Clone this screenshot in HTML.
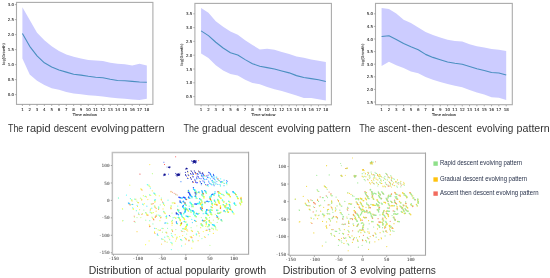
<!DOCTYPE html>
<html lang="en"><head><meta charset="utf-8"><title>Evolving patterns</title>
<style>html,body{margin:0;padding:0;background:#fff}body{width:550px;height:278px;overflow:hidden}svg{display:block}.t{font-family:"DejaVu Sans","Liberation Sans",sans-serif;fill:#222;stroke:#222;stroke-width:.08}.m{font-family:"DejaVu Sans Mono","Liberation Mono",monospace;fill:#333}.c{font-family:"Liberation Sans","Noto Sans CJK SC",sans-serif;fill:#333}.l{font-family:"Liberation Sans","Noto Sans CJK SC",sans-serif;fill:#27314a}</style></head><body>
<svg width="550" height="278" viewBox="0 0 550 278">
<rect width="550" height="278" fill="#fff"/>
<path d="M22.4 7.3 L29.72 19.9 L37.04 32.8 L44.36 40.3 L51.68 46.3 L59 51.1 L66.32 54.4 L73.64 56.8 L80.96 58.6 L88.28 60.1 L95.6 60.4 L102.92 61 L110.24 62.8 L117.56 63.7 L124.88 64.3 L132.2 65.5 L139.52 63.7 L146.84 65.5 L146.84 98.8 L139.52 100 L132.2 99.4 L124.88 98.8 L117.56 98.2 L110.24 97.6 L102.92 96.4 L95.6 95.8 L88.28 95.2 L80.96 94.3 L73.64 93.4 L66.32 91.9 L59 89.8 L51.68 88.3 L44.36 85 L37.04 80.8 L29.72 74.5 L22.4 58.6Z" fill="#ccccff"/>
<polyline fill="none" stroke="#4a8fc0" stroke-width="1.1" stroke-linejoin="round" points="22.4,33.4 29.72,46.3 37.04,55.9 44.36,62.8 51.68,67 59,70 66.32,72.1 73.64,74.2 80.96,75.1 88.28,76.3 95.6,77.2 102.92,77.8 110.24,79.3 117.56,80.5 124.88,80.8 132.2,81.4 139.52,82 146.84,82.3"/>
<rect x="16.5" y="2.4" width="136.4" height="102" fill="none" stroke="#ababab" stroke-width="1.1"/>
<path d="M16.2 94.6h-1.3M16.2 79.6h-1.3M16.2 64.6h-1.3M16.2 49.6h-1.3M16.2 34.6h-1.3M16.2 19.6h-1.3M16.2 4.6h-1.3M22.4 104.7v1.3M29.72 104.7v1.3M37.04 104.7v1.3M44.36 104.7v1.3M51.68 104.7v1.3M59 104.7v1.3M66.32 104.7v1.3M73.64 104.7v1.3M80.96 104.7v1.3M88.28 104.7v1.3M95.6 104.7v1.3M102.92 104.7v1.3M110.24 104.7v1.3M117.56 104.7v1.3M124.88 104.7v1.3M132.2 104.7v1.3M139.52 104.7v1.3M146.84 104.7v1.3" stroke="#666" stroke-width="0.5" fill="none"/>
<text class="t" x="14" y="96.1" font-size="4" text-anchor="end">0.0</text>
<text class="t" x="14" y="81.1" font-size="4" text-anchor="end">0.5</text>
<text class="t" x="14" y="66.1" font-size="4" text-anchor="end">1.0</text>
<text class="t" x="14" y="51.1" font-size="4" text-anchor="end">1.5</text>
<text class="t" x="14" y="36.1" font-size="4" text-anchor="end">2.0</text>
<text class="t" x="14" y="21.1" font-size="4" text-anchor="end">2.5</text>
<text class="t" x="14" y="6.1" font-size="4" text-anchor="end">3.0</text>
<text class="t" x="22.4" y="110.7" font-size="4" text-anchor="middle">1</text>
<text class="t" x="29.72" y="110.7" font-size="4" text-anchor="middle">2</text>
<text class="t" x="37.04" y="110.7" font-size="4" text-anchor="middle">3</text>
<text class="t" x="44.36" y="110.7" font-size="4" text-anchor="middle">4</text>
<text class="t" x="51.68" y="110.7" font-size="4" text-anchor="middle">5</text>
<text class="t" x="59" y="110.7" font-size="4" text-anchor="middle">6</text>
<text class="t" x="66.32" y="110.7" font-size="4" text-anchor="middle">7</text>
<text class="t" x="73.64" y="110.7" font-size="4" text-anchor="middle">8</text>
<text class="t" x="80.96" y="110.7" font-size="4" text-anchor="middle">9</text>
<text class="t" x="88.28" y="110.7" font-size="4" text-anchor="middle">10</text>
<text class="t" x="95.6" y="110.7" font-size="4" text-anchor="middle">11</text>
<text class="t" x="102.92" y="110.7" font-size="4" text-anchor="middle">12</text>
<text class="t" x="110.24" y="110.7" font-size="4" text-anchor="middle">13</text>
<text class="t" x="117.56" y="110.7" font-size="4" text-anchor="middle">14</text>
<text class="t" x="124.88" y="110.7" font-size="4" text-anchor="middle">15</text>
<text class="t" x="132.2" y="110.7" font-size="4" text-anchor="middle">16</text>
<text class="t" x="139.52" y="110.7" font-size="4" text-anchor="middle">17</text>
<text class="t" x="146.84" y="110.7" font-size="4" text-anchor="middle">18</text>
<text class="t" x="84.9" y="115.8" font-size="3.7" text-anchor="middle">Time window</text>
<text class="t" font-size="3.7" text-anchor="middle" transform="translate(4.7 53.9) rotate(-90)">log(Growth)</text>
<path d="M201.1 8 L208.44 12.7 L215.78 21.25 L223.11 26.77 L230.45 31.46 L237.79 34.78 L245.13 40.3 L252.47 44.99 L259.8 49.4 L267.14 48.85 L274.48 49.68 L281.82 51.89 L289.16 54.1 L296.49 56.58 L303.83 57.68 L311.17 59.62 L318.51 60.72 L325.85 62.1 L325.85 100.46 L318.51 99.36 L311.17 97.98 L303.83 97.98 L296.49 95.5 L289.16 93.29 L281.82 91.08 L274.48 89.15 L267.14 86.94 L259.8 84.18 L252.47 83.08 L245.13 79.76 L237.79 75.62 L230.45 73.97 L223.11 70.38 L215.78 65.14 L208.44 57.96 L201.1 53.54Z" fill="#ccccff"/>
<polyline fill="none" stroke="#4a8fc0" stroke-width="1.1" stroke-linejoin="round" points="201.1,30.91 208.44,35.6 215.78,42.23 223.11,48.02 230.45,52.72 237.79,54.92 245.13,59.62 252.47,63.76 259.8,66.24 267.14,67.62 274.48,69 281.82,70.93 289.16,72.86 296.49,75.62 303.83,77.56 311.17,78.66 318.51,79.76 325.85,81.42"/>
<rect x="194.9" y="3.4" width="136.5" height="101.4" fill="none" stroke="#ababab" stroke-width="1.1"/>
<path d="M194.6 96.6h-1.3M194.6 82.8h-1.3M194.6 69h-1.3M194.6 55.2h-1.3M194.6 41.4h-1.3M194.6 27.6h-1.3M194.6 13.8h-1.3M201.1 105.1v1.3M208.44 105.1v1.3M215.78 105.1v1.3M223.11 105.1v1.3M230.45 105.1v1.3M237.79 105.1v1.3M245.13 105.1v1.3M252.47 105.1v1.3M259.8 105.1v1.3M267.14 105.1v1.3M274.48 105.1v1.3M281.82 105.1v1.3M289.16 105.1v1.3M296.49 105.1v1.3M303.83 105.1v1.3M311.17 105.1v1.3M318.51 105.1v1.3M325.85 105.1v1.3" stroke="#666" stroke-width="0.5" fill="none"/>
<text class="t" x="192.4" y="98.1" font-size="4" text-anchor="end">0.5</text>
<text class="t" x="192.4" y="84.3" font-size="4" text-anchor="end">1.0</text>
<text class="t" x="192.4" y="70.5" font-size="4" text-anchor="end">1.5</text>
<text class="t" x="192.4" y="56.7" font-size="4" text-anchor="end">2.0</text>
<text class="t" x="192.4" y="42.9" font-size="4" text-anchor="end">2.5</text>
<text class="t" x="192.4" y="29.1" font-size="4" text-anchor="end">3.0</text>
<text class="t" x="192.4" y="15.3" font-size="4" text-anchor="end">3.5</text>
<text class="t" x="201.1" y="111.1" font-size="4" text-anchor="middle">1</text>
<text class="t" x="208.44" y="111.1" font-size="4" text-anchor="middle">2</text>
<text class="t" x="215.78" y="111.1" font-size="4" text-anchor="middle">3</text>
<text class="t" x="223.11" y="111.1" font-size="4" text-anchor="middle">4</text>
<text class="t" x="230.45" y="111.1" font-size="4" text-anchor="middle">5</text>
<text class="t" x="237.79" y="111.1" font-size="4" text-anchor="middle">6</text>
<text class="t" x="245.13" y="111.1" font-size="4" text-anchor="middle">7</text>
<text class="t" x="252.47" y="111.1" font-size="4" text-anchor="middle">8</text>
<text class="t" x="259.8" y="111.1" font-size="4" text-anchor="middle">9</text>
<text class="t" x="267.14" y="111.1" font-size="4" text-anchor="middle">10</text>
<text class="t" x="274.48" y="111.1" font-size="4" text-anchor="middle">11</text>
<text class="t" x="281.82" y="111.1" font-size="4" text-anchor="middle">12</text>
<text class="t" x="289.16" y="111.1" font-size="4" text-anchor="middle">13</text>
<text class="t" x="296.49" y="111.1" font-size="4" text-anchor="middle">14</text>
<text class="t" x="303.83" y="111.1" font-size="4" text-anchor="middle">15</text>
<text class="t" x="311.17" y="111.1" font-size="4" text-anchor="middle">16</text>
<text class="t" x="318.51" y="111.1" font-size="4" text-anchor="middle">17</text>
<text class="t" x="325.85" y="111.1" font-size="4" text-anchor="middle">18</text>
<text class="t" x="263.5" y="116.2" font-size="3.7" text-anchor="middle">Time window</text>
<text class="t" font-size="3.7" text-anchor="middle" transform="translate(182.5 54.6) rotate(-90)">log(Growth)</text>
<path d="M381.6 8 L388.93 9.01 L396.26 13.55 L403.59 19.85 L410.92 23.12 L418.25 27.41 L425.58 31.94 L432.91 34.97 L440.24 37.49 L447.57 39.76 L454.9 41.02 L462.23 41.52 L469.56 44.29 L476.89 46.31 L484.22 47.57 L491.55 49.08 L498.88 49.84 L506.21 51.1 L506.21 99.98 L498.88 97.72 L491.55 97.21 L484.22 94.44 L476.89 92.42 L469.56 89.9 L462.23 87.13 L454.9 85.87 L447.57 84.11 L440.24 82.09 L432.91 79.82 L425.58 77.05 L418.25 73.27 L410.92 71.51 L403.59 67.98 L396.26 65.21 L388.93 61.68 L381.6 65.96Z" fill="#ccccff"/>
<polyline fill="none" stroke="#4a8fc0" stroke-width="1.1" stroke-linejoin="round" points="381.6,36.48 388.93,35.72 396.26,39.5 403.59,43.54 410.92,46.81 418.25,49.84 425.58,54.37 432.91,57.4 440.24,59.66 447.57,61.93 454.9,63.19 462.23,64.2 469.56,66.47 476.89,68.74 484.22,70.5 491.55,72.52 498.88,73.02 506.21,75.04"/>
<rect x="375.5" y="3.4" width="136.8" height="101.3" fill="none" stroke="#ababab" stroke-width="1.1"/>
<path d="M375.2 102h-1.3M375.2 89.4h-1.3M375.2 76.8h-1.3M375.2 64.2h-1.3M375.2 51.6h-1.3M375.2 39h-1.3M375.2 26.4h-1.3M375.2 13.8h-1.3M381.6 105v1.3M388.93 105v1.3M396.26 105v1.3M403.59 105v1.3M410.92 105v1.3M418.25 105v1.3M425.58 105v1.3M432.91 105v1.3M440.24 105v1.3M447.57 105v1.3M454.9 105v1.3M462.23 105v1.3M469.56 105v1.3M476.89 105v1.3M484.22 105v1.3M491.55 105v1.3M498.88 105v1.3M506.21 105v1.3" stroke="#666" stroke-width="0.5" fill="none"/>
<text class="t" x="373" y="103.5" font-size="4" text-anchor="end">1.5</text>
<text class="t" x="373" y="90.9" font-size="4" text-anchor="end">2.0</text>
<text class="t" x="373" y="78.3" font-size="4" text-anchor="end">2.5</text>
<text class="t" x="373" y="65.7" font-size="4" text-anchor="end">3.0</text>
<text class="t" x="373" y="53.1" font-size="4" text-anchor="end">3.5</text>
<text class="t" x="373" y="40.5" font-size="4" text-anchor="end">4.0</text>
<text class="t" x="373" y="27.9" font-size="4" text-anchor="end">4.5</text>
<text class="t" x="373" y="15.3" font-size="4" text-anchor="end">5.0</text>
<text class="t" x="381.6" y="111" font-size="4" text-anchor="middle">1</text>
<text class="t" x="388.93" y="111" font-size="4" text-anchor="middle">2</text>
<text class="t" x="396.26" y="111" font-size="4" text-anchor="middle">3</text>
<text class="t" x="403.59" y="111" font-size="4" text-anchor="middle">4</text>
<text class="t" x="410.92" y="111" font-size="4" text-anchor="middle">5</text>
<text class="t" x="418.25" y="111" font-size="4" text-anchor="middle">6</text>
<text class="t" x="425.58" y="111" font-size="4" text-anchor="middle">7</text>
<text class="t" x="432.91" y="111" font-size="4" text-anchor="middle">8</text>
<text class="t" x="440.24" y="111" font-size="4" text-anchor="middle">9</text>
<text class="t" x="447.57" y="111" font-size="4" text-anchor="middle">10</text>
<text class="t" x="454.9" y="111" font-size="4" text-anchor="middle">11</text>
<text class="t" x="462.23" y="111" font-size="4" text-anchor="middle">12</text>
<text class="t" x="469.56" y="111" font-size="4" text-anchor="middle">13</text>
<text class="t" x="476.89" y="111" font-size="4" text-anchor="middle">14</text>
<text class="t" x="484.22" y="111" font-size="4" text-anchor="middle">15</text>
<text class="t" x="491.55" y="111" font-size="4" text-anchor="middle">16</text>
<text class="t" x="498.88" y="111" font-size="4" text-anchor="middle">17</text>
<text class="t" x="506.21" y="111" font-size="4" text-anchor="middle">18</text>
<text class="t" x="444" y="116.1" font-size="3.7" text-anchor="middle">Time window</text>
<text class="t" font-size="3.7" text-anchor="middle" transform="translate(363.7 54.55) rotate(-90)">log(Growth)</text>
<text class="c" y="131.6" font-size="10.4">
<tspan x="8.03" textLength="15.29" lengthAdjust="spacingAndGlyphs">The</tspan>
<tspan x="26.25" textLength="24.39" lengthAdjust="spacingAndGlyphs">rapid</tspan>
<tspan x="53.63" textLength="33.09" lengthAdjust="spacingAndGlyphs">descent</tspan>
<tspan x="90.69" textLength="38.35" lengthAdjust="spacingAndGlyphs">evolving</tspan>
<tspan x="130.55" textLength="34.05" lengthAdjust="spacingAndGlyphs">pattern</tspan>
</text>
<text class="c" y="131.6" font-size="10.4">
<tspan x="183.52" textLength="15.39" lengthAdjust="spacingAndGlyphs">The</tspan>
<tspan x="202.1" textLength="34.23" lengthAdjust="spacingAndGlyphs">gradual</tspan>
<tspan x="239.83" textLength="33.09" lengthAdjust="spacingAndGlyphs">descent</tspan>
<tspan x="276.9" textLength="37.83" lengthAdjust="spacingAndGlyphs">evolving</tspan>
<tspan x="316.95" textLength="33.85" lengthAdjust="spacingAndGlyphs">pattern</tspan>
</text>
<text class="c" y="131.6" font-size="10.4">
<tspan x="359.32" textLength="15.6" lengthAdjust="spacingAndGlyphs">The</tspan>
<tspan x="378.22" textLength="28.33" lengthAdjust="spacingAndGlyphs">ascent</tspan>
<tspan x="407.37" textLength="3.46" lengthAdjust="spacingAndGlyphs">-</tspan>
<tspan x="412.1" textLength="19.96" lengthAdjust="spacingAndGlyphs">then</tspan>
<tspan x="432.82" textLength="3.46" lengthAdjust="spacingAndGlyphs">-</tspan>
<tspan x="437.31" textLength="34.51" lengthAdjust="spacingAndGlyphs">descent</tspan>
<tspan x="476.51" textLength="36.81" lengthAdjust="spacingAndGlyphs">evolving</tspan>
<tspan x="516.57" textLength="33.22" lengthAdjust="spacingAndGlyphs">pattern</tspan>
</text>
<text class="c" y="273.6" font-size="10.4">
<tspan x="88.68" textLength="52.46" lengthAdjust="spacingAndGlyphs">Distribution</tspan>
<tspan x="144.61" textLength="8.19" lengthAdjust="spacingAndGlyphs">of</tspan>
<tspan x="156.42" textLength="25.65" lengthAdjust="spacingAndGlyphs">actual</tspan>
<tspan x="185.2" textLength="44.33" lengthAdjust="spacingAndGlyphs">popularity</tspan>
<tspan x="234.59" textLength="31.44" lengthAdjust="spacingAndGlyphs">growth</tspan>
</text>
<text class="c" y="273.6" font-size="10.4">
<tspan x="282.68" textLength="52.36" lengthAdjust="spacingAndGlyphs">Distribution</tspan>
<tspan x="338.51" textLength="8.19" lengthAdjust="spacingAndGlyphs">of</tspan>
<tspan x="350.36" textLength="6.26" lengthAdjust="spacingAndGlyphs">3</tspan>
<tspan x="359.91" textLength="36.19" lengthAdjust="spacingAndGlyphs">evolving</tspan>
<tspan x="399.31" textLength="36.55" lengthAdjust="spacingAndGlyphs">patterns</tspan>
</text>
<path d="M112.35 254.2V152.4H248.6" fill="none" stroke="#c0c0c0" stroke-width="1.5"/>
<path d="M111.65 254.2H248.6V151.7" fill="none" stroke="#a6a6a6" stroke-width="1.1"/>
<path d="M111.95 252.71h-1.2M113.5 254.6v1.2M111.95 235.27h-1.2M137.6 254.6v1.2M111.95 217.84h-1.2M161.7 254.6v1.2M111.95 200.4h-1.2M185.8 254.6v1.2M111.95 182.97h-1.2M209.9 254.6v1.2M111.95 165.53h-1.2M234 254.6v1.2" stroke="#555" stroke-width="0.5" fill="none"/>
<text class="m" x="109.55" y="254.26" font-size="4.4" text-anchor="end">-150</text>
<text class="m" x="113.7" y="259.7" font-size="4.4" text-anchor="middle">-150</text>
<text class="m" x="109.55" y="236.82" font-size="4.4" text-anchor="end">-100</text>
<text class="m" x="137.8" y="259.7" font-size="4.4" text-anchor="middle">-100</text>
<text class="m" x="109.55" y="219.39" font-size="4.4" text-anchor="end">-50</text>
<text class="m" x="161.9" y="259.7" font-size="4.4" text-anchor="middle">-50</text>
<text class="m" x="109.55" y="201.95" font-size="4.4" text-anchor="end">0</text>
<text class="m" x="185.8" y="259.7" font-size="4.4" text-anchor="middle">0</text>
<text class="m" x="109.55" y="184.52" font-size="4.4" text-anchor="end">50</text>
<text class="m" x="209.9" y="259.7" font-size="4.4" text-anchor="middle">50</text>
<text class="m" x="109.55" y="167.08" font-size="4.4" text-anchor="end">100</text>
<text class="m" x="234" y="259.7" font-size="4.4" text-anchor="middle">100</text>
<path d="M289.05 255.3V153.3H425.5" fill="none" stroke="#c0c0c0" stroke-width="1.5"/>
<path d="M288.35 255.3H425.5V152.6" fill="none" stroke="#a6a6a6" stroke-width="1.1"/>
<path d="M288.65 254.25h-1.2M290.3 255.7v1.2M288.65 236.7h-1.2M314.4 255.7v1.2M288.65 219.15h-1.2M338.5 255.7v1.2M288.65 201.6h-1.2M362.6 255.7v1.2M288.65 184.05h-1.2M386.7 255.7v1.2M288.65 166.5h-1.2M410.8 255.7v1.2" stroke="#555" stroke-width="0.5" fill="none"/>
<text class="m" x="286.25" y="255.8" font-size="4.4" text-anchor="end">-150</text>
<text class="m" x="290.5" y="260.8" font-size="4.4" text-anchor="middle">-150</text>
<text class="m" x="286.25" y="238.25" font-size="4.4" text-anchor="end">-100</text>
<text class="m" x="314.6" y="260.8" font-size="4.4" text-anchor="middle">-100</text>
<text class="m" x="286.25" y="220.7" font-size="4.4" text-anchor="end">-50</text>
<text class="m" x="338.7" y="260.8" font-size="4.4" text-anchor="middle">-50</text>
<text class="m" x="286.25" y="203.15" font-size="4.4" text-anchor="end">0</text>
<text class="m" x="362.6" y="260.8" font-size="4.4" text-anchor="middle">0</text>
<text class="m" x="286.25" y="185.6" font-size="4.4" text-anchor="end">50</text>
<text class="m" x="386.7" y="260.8" font-size="4.4" text-anchor="middle">50</text>
<text class="m" x="286.25" y="168.05" font-size="4.4" text-anchor="end">100</text>
<text class="m" x="410.8" y="260.8" font-size="4.4" text-anchor="middle">100</text>
<path d="M151.78 208.19h0M166.61 215.83h0M154.64 200.41h0M147.36 184.56h0M171.82 235.37h0M196.31 233.89h0M157.37 235.06h0M166.95 222.94h0M150.11 212.06h0M137.1 205.36h0" stroke="#4cffff" stroke-width="1.2" stroke-linecap="round" fill="none"/>
<path d="M150.66 208.87h0M165.1 213.61h0M166.29 218.32h0M170.64 207.84h0M191.95 230.93h0M206.33 230.39h0M146.39 196.94h0M154.95 201.82h0M154.83 202.22h0M145.91 212.78h0M163.71 204.38h0M173.03 237.23h0M198.57 232.09h0M185.58 238.44h0M187.76 231.02h0M192.94 241.96h0M169.03 238.01h0M154.5 232.42h0M196.69 234.82h0M163.01 228.56h0M161.23 199.51h0M137.52 206.39h0M152.85 218.5h0M175.9 217.94h0M149.23 224.77h0" stroke="#ffe94c" stroke-width="1.2" stroke-linecap="round" fill="none"/>
<path d="M150.64 209.78h0M171.89 221.53h0M171.9 223.17h0M184.73 229.16h0M141.18 189.02h0M144.27 203.71h0M149.97 186.72h0M166.14 232.38h0M172.11 244.83h0M187.04 229.51h0M176.98 237.46h0M177 237.8h0M190.55 237.19h0M172.05 230.19h0M174.17 203.02h0M141.77 199.4h0M133.29 209.42h0M154.84 205.9h0M154.95 206.65h0M137.91 202.62h0" stroke="#ffff4c" stroke-width="1.2" stroke-linecap="round" fill="none"/>
<path d="M150.17 210.02h0M155.1 217.06h0M184.9 228.85h0M185.48 229.3h0M192.42 231.34h0M141.43 189.67h0M135.84 199.2h0M186.85 230.15h0M176.43 238.88h0M161.44 199.89h0M132.07 200.88h0M138.52 202.65h0" stroke="#ffd24c" stroke-width="1.2" stroke-linecap="round" fill="none"/>
<path d="M147.84 214.35h0M156.11 211.16h0M175.2 234.71h0M200.66 227.71h0M213.38 233.44h0M152.29 190.87h0M147.84 199.53h0M171 191.89h0M149.75 164.53h0M185.33 244.12h0M182.69 235.51h0M163.03 208.94h0" stroke="#ffea59" stroke-width="1.24" stroke-linecap="round" fill="none"/>
<path d="M158.67 206.74h0M134.55 199h0M132.85 204.4h0M163.11 202.76h0M163.34 203.31h0M170.95 242.33h0M171.97 243.07h0M167.22 236.02h0M196.4 234.66h0M161.99 228.37h0M132.7 207.88h0M130.4 198.63h0M173.16 217.68h0M159.83 215.86h0M155.03 193.93h0" stroke="#63ffe9" stroke-width="1.2" stroke-linecap="round" fill="none"/>
<path d="M158.52 207.92h0M163.62 211.46h0M165.84 216.62h0M172.51 220.46h0M182.61 228.62h0M148.1 185.14h0M192.49 240.22h0M149.77 194.69h0M154.4 206.08h0M158.77 215.06h0M159.99 215.87h0" stroke="#79ffd2" stroke-width="1.2" stroke-linecap="round" fill="none"/>
<path d="M158.99 207.9h0M163.91 211.77h0M172.27 220.42h0M183.15 228.88h0M183.68 228.66h0M145.27 196.33h0M135.22 199.56h0M172.34 236.52h0M197.81 231.4h0M162.05 239.34h0M168.26 236.51h0M188.69 239.98h0M181.05 239.61h0M181.9 240.61h0M158.14 235.32h0M164.71 240.26h0M171.91 229.68h0M162.89 228.3h0M211.69 228.22h0M167.85 223.62h0M131.81 199.7h0M151.48 213.04h0M151.17 203.89h0M152 217.11h0M174.3 217.31h0" stroke="#a6ffa6" stroke-width="1.2" stroke-linecap="round" fill="none"/>
<path d="M158.48 208.34h0M171.08 205.58h0M145.26 196.4h0M155.12 200.09h0M132.23 204.45h0M145.64 212.61h0M163.71 203.1h0M184.72 237.54h0M166.02 232.21h0M181.29 230.59h0M186.4 228.52h0M181.27 239.82h0M161.33 198.06h0M153.82 192.9h0M129.63 203.39h0" stroke="#8fffbc" stroke-width="1.2" stroke-linecap="round" fill="none"/>
<path d="M158.57 209.48h0M156.23 216.34h0M164.27 212.76h0M171.07 208.11h0M172.37 223.04h0M146.81 214.89h0M186.03 238.85h0M186.23 239.71h0M166.73 232.97h0M191.44 236.87h0M205.13 237.32h0M165.02 241.57h0M174.75 203.42h0M174.97 203.16h0M141.65 199.94h0M151.93 204.17h0M155.15 207.4h0M138.46 214.03h0" stroke="#ffbc4c" stroke-width="1.2" stroke-linecap="round" fill="none"/>
<path d="M156.84 214.94h0M156.33 215.61h0M156.13 228.5h0M164.18 212.22h0M166.32 217.36h0M166.67 217.69h0M143.42 204.81h0M146.3 213.35h0M149.2 186.24h0M171.95 243.3h0M193.1 241.16h0M158.17 229.87h0M177 237.06h0M212.82 228.35h0M213.25 228.84h0M140.41 198.16h0M150.03 195.4h0M150.85 212.56h0M170.2 216.45h0M136.86 201.05h0M175.71 218.46h0M130.38 204.93h0M139.26 214.62h0" stroke="#bcff8f" stroke-width="1.2" stroke-linecap="round" fill="none"/>
<path d="M155.82 216.05h0M162.59 201.98h0M209.77 229.64h0M153.08 203.58h0M160.71 217.65h0M129.88 204.68h0" stroke="#ff794c" stroke-width="1.2" stroke-linecap="round" fill="none"/>
<path d="M155.42 217.17h0M171.01 208.74h0M142.14 190h0M147.87 215.39h0M182.06 231.42h0M160.31 230.12h0M154.95 233.28h0M156.15 208.3h0" stroke="#ffa64c" stroke-width="1.2" stroke-linecap="round" fill="none"/>
<path d="M149.75 220.71h0M136.38 210.73h0M123.02 220.53h0" stroke="#83ffd6" stroke-width="1.24" stroke-linecap="round" fill="none"/>
<path d="M152.93 223.89h0M167.56 228.35h0M201.93 238.53h0M169.64 239.66h0" stroke="#97ffc1" stroke-width="1.24" stroke-linecap="round" fill="none"/>
<path d="M154.74 228.34h0M161.78 238.74h0M165.55 222.96h0M129.37 203.44h0" stroke="#4cd2ff" stroke-width="1.2" stroke-linecap="round" fill="none"/>
<path d="M156.21 228.57h0M165.11 213.08h0M171.19 206.39h0M140.77 188.74h0M155.07 201.2h0M146.72 214.44h0M149.08 185.13h0M189.28 240.21h0M159.32 230.43h0M154.6 231.77h0M213.39 229.6h0M133.35 208.52h0M150.75 195.5h0M131.46 200.14h0M151.67 212.96h0M152.2 212.97h0M153.53 212.54h0M175.06 217.58h0M161.18 217.19h0M155.72 195.14h0M149.7 225.67h0" stroke="#e9ff63" stroke-width="1.2" stroke-linecap="round" fill="none"/>
<path d="M159.93 220.71h0M205.75 226.44h0M215.29 214.35h0M199.38 235.98h0M143.38 195.71h0M129.76 185.15h0" stroke="#eaff6e" stroke-width="1.24" stroke-linecap="round" fill="none"/>
<path d="M166.59 216.45h0M155.13 199.56h0M142.73 204.22h0M180.5 239.53h0M154.27 193.47h0M138.69 213.01h0" stroke="#4ce9ff" stroke-width="1.2" stroke-linecap="round" fill="none"/>
<path d="M162.47 232.16h0M172.02 213.07h0M175.84 229.62h0M215.93 229.62h0M134.47 217.09h0M137.02 217.6h0M217.2 222.44h0M209.95 245.35h0M152.42 173.69h0" stroke="#c1ff97" stroke-width="1.24" stroke-linecap="round" fill="none"/>
<path d="M170.68 207.24h0M171.68 221.24h0M191.35 230.45h0M206.02 230.37h0M164.55 205.54h0M164.49 205.38h0M163.01 239.4h0M167.88 236.63h0M209.5 230.74h0M209.85 231.39h0M190.17 236.57h0M204.44 236.59h0M167.37 223.3h0M172.22 202.85h0M172.71 202.98h0M173.96 202.61h0M141.42 199.02h0M152.44 217.77h0M137.66 202.43h0M159.81 216.48h0M154.85 194.38h0M142.43 213.68h0" stroke="#d2ff79" stroke-width="1.2" stroke-linecap="round" fill="none"/>
<path d="M172.02 225.16h0M179.66 236.62h0M139.56 209.71h0M149.11 240.89h0M145.55 244.71h0M217.2 230.07h0M191.75 248.15h0M193.4 235.33h0M175.63 241.06h0M203.28 231.54h0M159.3 195.83h0" stroke="#ffff59" stroke-width="1.24" stroke-linecap="round" fill="none"/>
<path d="M177.75 206.07h0M191.75 219.44h0M126.45 195.07h0M220.66 178.76h0" stroke="#59ffff" stroke-width="1.24" stroke-linecap="round" fill="none"/>
<path d="M177.7 209.38h0M195.97 221.39h0M201.55 209.92h0M208.86 210.19h0M235.12 193.38h0M235.72 194.44h0M220.51 207.52h0M209.29 220.49h0M218.88 195.96h0M201.89 207.31h0M188.44 191.23h0M180.99 202.37h0M195.67 195.34h0M209.04 225.06h0M225.73 205.93h0" stroke="#ffaf29" stroke-width="1.44" stroke-linecap="round" fill="none"/>
<path d="M177.62 210.12h0M200.88 209.11h0M194.78 189.62h0M202.42 192.67h0M226.1 191.12h0M233.55 192.42h0M234.39 193.06h0M190.05 202.32h0M191.45 203.78h0M229.77 209.01h0M222.31 200.03h0M209.61 197h0M210.05 197.59h0M181.56 215.05h0M234.25 203.48h0M234.74 203.95h0M218.61 195.03h0M229.16 195.01h0M185.81 208.43h0M198.24 203.63h0M201.48 204.85h0M202.43 204.68h0M193.58 214.02h0M228.72 201.19h0M208.98 224.57h0M229.78 205.28h0M187.34 225.05h0M206.9 213.96h0M225.69 207.68h0" stroke="#29ffff" stroke-width="1.44" stroke-linecap="round" fill="none"/>
<path d="M178.29 210.1h0M178.9 210.33h0M187.53 216.44h0M194.11 211.94h0M193.72 212.81h0M198.15 213.73h0M198.32 213.99h0M195.46 221.11h0M209.59 210.14h0M210.54 209.91h0M211.08 206.65h0M198.25 192.38h0M211.09 196.72h0M221.79 194.32h0M227.62 193.35h0M185.45 204.25h0M190.29 202.93h0M190.7 203.09h0M214.65 200.86h0M226.26 203.43h0M229.27 209.17h0M216.83 210.07h0M218.31 213.44h0M219.22 213.23h0M224.35 210.81h0M227.51 211.65h0M205.9 211.36h0M205.35 213.27h0M181.93 216.28h0M234.66 204.07h0M184.05 208.57h0M201.9 194.53h0M210.18 211.86h0M210.96 212.4h0M197.81 203.7h0M209.12 201.39h0M190.82 210.28h0M202.41 204.19h0M194.91 215.17h0M212.29 203.19h0M196.15 197.06h0M201.42 224.91h0M214.12 225.83h0M209.19 225.62h0M187.16 224.12h0" stroke="#44ffe4" stroke-width="1.44" stroke-linecap="round" fill="none"/>
<path d="M178.57 211.04h0M179.35 218.34h0M179.78 219.86h0M180.86 223.42h0M188.38 216.78h0M185.24 222.12h0M202.42 210.66h0M204.75 220.84h0M210.95 209.47h0M195.99 191.31h0M203.28 193.97h0M206.14 192.77h0M218.68 191.8h0M223.04 194.66h0M236.77 196.36h0M241.41 199.49h0M240.28 203.81h0M186.24 205.38h0M192.92 205.9h0M201.01 199.7h0M217.72 199.53h0M223.11 204.69h0M223.42 204.81h0M233.11 212.71h0M219.52 212.95h0M220.46 212.71h0M206.04 222.75h0M222.72 200.77h0M210.07 198.55h0M213.73 194.92h0M182.4 216.94h0M235.95 205.15h0M202.01 195.14h0M209.34 221.62h0M228.94 194.34h0M186.39 208.47h0M187.06 209.16h0M217.38 216.82h0M218.7 218.31h0M202.09 206.92h0M188.5 191.28h0M189.41 192.14h0M195.07 215.53h0M205.82 217.56h0M183.37 217.81h0M201.37 224.05h0M202.46 225.24h0M214.9 226.28h0M200.51 202.87h0M229.86 206.2h0M186.78 224.62h0M186.5 225.94h0" stroke="#79ffaf" stroke-width="1.44" stroke-linecap="round" fill="none"/>
<path d="M178.56 211.7h0M181.61 222.79h0M194.43 212.77h0M203.62 220.87h0M211.41 207.22h0M195.49 192.2h0M228.14 194.6h0M241.46 200.79h0M185.74 204.83h0M191.64 204.84h0M192.86 204.71h0M230.15 209.52h0M231.9 210.78h0M225.36 211.71h0M221.08 219.97h0M222 221.08h0M214.22 195.15h0M184.43 209.81h0M186.83 209.3h0M206.02 217.69h0M202.36 225.33h0M215.7 227.9h0M207.91 226.67h0M230.34 207.13h0M177.27 223.71h0" stroke="#94ff94" stroke-width="1.44" stroke-linecap="round" fill="none"/>
<path d="M178.2 217.36h0M185.3 210.22h0M185.23 211.84h0M196.29 213.58h0M196.33 213.51h0M200.46 207.93h0M201.39 209.55h0M190.48 195.02h0M191.45 196.38h0M191.99 196.77h0M201.84 190.8h0M205.59 191.3h0M205.73 191.82h0M184.86 202.69h0M199.66 198.77h0M214.33 200.11h0M217.03 210.56h0M215.01 191.88h0M178.51 214.82h0M234.27 202.88h0M210.07 211.95h0M206.96 201.62h0M208.65 201.69h0M216.63 215.68h0M185.25 198.25h0M195.11 196.34h0M195.53 194.05h0M212.47 224.61h0M229.35 204.55h0M224.68 206.61h0M176.73 223.32h0" stroke="#29c9ff" stroke-width="1.44" stroke-linecap="round" fill="none"/>
<path d="M178.82 217.47h0M183.97 213.19h0M183.75 213.66h0M188.41 216.37h0M202.5 220.78h0M195 190.88h0M191.98 197.76h0M202.85 193.49h0M205.77 192.09h0M218.92 192.28h0M226.55 192.47h0M234.72 193.38h0M237.32 196.89h0M191.37 204.77h0M200.49 199.51h0M214.75 201.17h0M217.69 199.91h0M224.39 205.7h0M205.83 211.98h0M205.81 213.05h0M206.46 222.01h0M189.71 198.21h0M210.76 199.91h0M183.85 208.37h0M202.42 195.86h0M211.6 214.26h0M218.8 195.7h0M199.31 203.76h0M190.91 210.92h0M191.15 210.79h0M201.78 205.01h0M195.1 216.01h0M211.91 203.73h0M196.08 197.99h0M199.33 202.82h0M229.46 205.02h0M207.51 214.41h0M226.78 207.87h0M227.24 208.33h0" stroke="#5effc9" stroke-width="1.44" stroke-linecap="round" fill="none"/>
<path d="M179.28 218.51h0M180.3 219.57h0M181.25 224.5h0M189.86 216.38h0M185.99 222.07h0M212.23 210.24h0M196.76 193.03h0M219.29 192.71h0M223.95 195.5h0M241.7 201.41h0M192.84 206.41h0M193.12 206.8h0M218.54 200.46h0M218.18 200.99h0M224.44 205.76h0M224.93 206.71h0M226.55 204.1h0M228.48 211.98h0M206.43 223.37h0M215.05 204.14h0M220.37 205.96h0M210.8 213.2h0M210.87 214.21h0M211.06 222.93h0M206.91 219h0M184.37 219.14h0M208.85 226.06h0M185.83 226.95h0M227.24 209.56h0" stroke="#c9ff5e" stroke-width="1.44" stroke-linecap="round" fill="none"/>
<path d="M180.39 220.81h0M180.4 225.42h0M225.03 207.15h0M226.87 204.66h0M233.96 213.89h0M220.89 212.11h0M206.26 224.65h0M220.55 206.32h0M204.07 196.73h0M203.96 198.05h0M209.82 222.22h0M220.81 198.33h0M230.14 196.76h0M187.96 210.58h0M229.87 202.31h0M183.96 218.18h0M184.61 219.56h0M200.68 204.59h0M185.26 228.02h0M208.51 215.35h0M227.14 210.32h0" stroke="#ffff29" stroke-width="1.44" stroke-linecap="round" fill="none"/>
<path d="M181.46 223.25h0M203.92 220.9h0M203.13 193.7h0M217.94 191.67h0M240.95 198.72h0M185.03 203.23h0M184.88 203.04h0M204.91 202.54h0M230.26 209.22h0M210.27 198.45h0M210.35 199.54h0M181 213.33h0M217.19 217.28h0M186.53 199.47h0M202.27 208.42h0M195.38 193.02h0" stroke="#ff5e29" stroke-width="1.44" stroke-linecap="round" fill="none"/>
<path d="M180.93 224.48h0M205.25 220.56h0M199.3 192.86h0M218.72 193.3h0M220.41 193.45h0M237.59 197.65h0M237.67 198.17h0M241.76 202.47h0M240.6 204.68h0M218.96 201.36h0M219.49 203.21h0M231.32 209.89h0M211.44 200.35h0M211.8 214.86h0M218.53 218.79h0M206.72 219.13h0M186.62 225.37h0" stroke="#e4ff44" stroke-width="1.44" stroke-linecap="round" fill="none"/>
<path d="M171.38 233.44h0M184.11 231.53h0M186.66 234.07h0M191.11 227.71h0M201.29 217.53h0M209.56 217.53h0M118.56 198h0M122.64 209.07h0M175.84 194.69h0M135.11 222.18h0M143.84 210.03h0M160.26 204.76h0M145.74 220.18h0" stroke="#acffac" stroke-width="1.24" stroke-linecap="round" fill="none"/>
<path d="M185.79 209.68h0M192.76 210.79h0M189.5 193.79h0M189.71 194.54h0M233 191.77h0M183.23 201.68h0M206.78 209.73h0M177.26 213.63h0M180.85 213.06h0M183.28 205.46h0M189.39 209.05h0M180.64 202.3h0M176.43 221.95h0" stroke="#2979ff" stroke-width="1.44" stroke-linecap="round" fill="none"/>
<path d="M185.08 211.7h0M187.23 216.43h0M197.32 213.91h0M194.71 220.36h0M202.5 220.32h0M190.75 195.68h0M198.94 191.91h0M202.26 191.7h0M202.56 192.22h0M204.62 190.63h0M183.35 201.19h0M183.84 201.87h0M221.2 219.87h0M207 209.96h0M181.18 198.11h0M178.05 214.51h0M180.79 213.93h0M185.7 199.18h0M188.46 190.42h0M195.37 196.25h0M206.45 213.24h0" stroke="#29afff" stroke-width="1.44" stroke-linecap="round" fill="none"/>
<path d="M184.63 212.19h0M186.15 216.01h0M184.21 221.43h0M192.9 211.26h0M193.45 211.29h0M193.55 189.27h0M194.48 190.07h0M194.72 190.55h0M211.63 194.79h0M211.24 195.8h0M211.01 195.96h0M226.72 192.43h0M233.29 192h0M184.96 204.29h0M205.19 202.08h0M227.8 207.93h0M228.42 207.92h0M232.45 211.83h0M217.56 213.15h0M206.51 210.74h0M189.67 198.14h0M181.88 197.85h0M182.34 197.93h0M215.03 193.62h0M214.26 193.7h0M181.18 214.54h0M182.73 206.97h0M183.44 207.19h0M185.21 207.95h0M197.46 203.55h0M217.59 216.6h0M189.73 209.48h0M211.39 201.84h0M181.45 202.99h0M213.1 225.03h0M213.31 224.96h0M214.37 225.27h0M199.44 201.95h0" stroke="#29e4ff" stroke-width="1.44" stroke-linecap="round" fill="none"/>
<path d="M191.75 206.71h0M203.2 213.71h0M150.38 188.07h0M146.86 206.13h0" stroke="#59eaff" stroke-width="1.24" stroke-linecap="round" fill="none"/>
<path d="M189.2 206.07h0M208.29 234.71h0M181.56 245.98h0M171.38 249.55h0M164.7 237.15h0M168.03 200.18h0" stroke="#6effea" stroke-width="1.24" stroke-linecap="round" fill="none"/>
<path d="M192.38 222.62h0M217.81 184.41h0M214.84 177.08h0" stroke="#59d6ff" stroke-width="1.24" stroke-linecap="round" fill="none"/>
<path d="M198.98 213.39h0M211.74 210.37h0M196.32 192.41h0M206.45 193.35h0M210.46 197.8h0M226.89 193.59h0M236.34 194.66h0M237.86 198.59h0M240.98 199.23h0M241.14 200.94h0M201.12 200.37h0M201.79 200.93h0M201.93 201.44h0M205.1 203.07h0M215.52 202.18h0M217.91 210.19h0M214.65 204.33h0M223.94 201.37h0M235.51 205.36h0M184.44 208.79h0M203.23 195.95h0M203.62 196.82h0M209.07 220.96h0M219.64 197.24h0M219.83 197.23h0M229.49 195.35h0M187.16 209.81h0M188.49 211.13h0M218.15 219h0M191.01 212.17h0M195.9 216.75h0M196.36 216.81h0M206.2 218.56h0M229 201.6h0M211.69 203.9h0M196.96 198.47h0M202.32 225.76h0M202.85 225.99h0M215.05 226.43h0M207.71 214.81h0M227.29 209.09h0" stroke="#afff79" stroke-width="1.44" stroke-linecap="round" fill="none"/>
<path d="M196.84 225.8h0M213.38 220.07h0M167.15 242.2h0M140.83 217.53h0" stroke="#d6ff83" stroke-width="1.24" stroke-linecap="round" fill="none"/>
<path d="M200.88 207.99h0M212.05 194.49h0M223.96 210.89h0M206.66 210.07h0M188.48 197.74h0M180.21 197.73h0M182.73 206.43h0M196.35 204.25h0M185.08 198.14h0M196.05 193.91h0" stroke="#2994ff" stroke-width="1.44" stroke-linecap="round" fill="none"/>
<path d="M207.01 230.22h0M198.99 233.24h0M191.9 237.71h0M172.54 231.14h0M153.49 219.22h0M153.88 219.82h0M141.86 214.23h0M149.99 226.24h0M149.59 226.56h0" stroke="#ff8f4c" stroke-width="1.2" stroke-linecap="round" fill="none"/>
<path d="M212.18 207.53h0M216.31 204.82h0" stroke="#ffc929" stroke-width="1.44" stroke-linecap="round" fill="none"/>
<path d="M193.42 187.71h0M190.03 195.08h0M212.72 194.2h0M188.73 196.93h0M180.01 212.65h0M194.86 203.99h0M183.4 197.13h0M184.76 197.37h0M180 200.93h0M180.02 201.96h0M195.16 192.71h0" stroke="#295eff" stroke-width="1.44" stroke-linecap="round" fill="none"/>
<path d="M188.39 192.46h0M179.85 197.48h0M184.02 197.48h0" stroke="#2929ff" stroke-width="1.44" stroke-linecap="round" fill="none"/>
<path d="M189.58 193.34h0M178.95 197.33h0M176.43 213.88h0M195.9 204h0M207.11 201.32h0" stroke="#2944ff" stroke-width="1.44" stroke-linecap="round" fill="none"/>
<path d="M227.98 194.01h0M229.12 194.51h0M238.07 198.65h0M241.04 197.49h0M239.85 203.09h0M201.9 202.69h0M218.67 202.11h0M219.08 202.88h0M218.13 213.25h0M228.23 212.4h0M215.91 204.28h0M223.82 202.13h0M220.98 198.13h0M230.33 196.6h0M201.89 206.89h0M212.44 205.08h0M200.91 223.86h0M200.54 203.75h0M186.23 226.74h0" stroke="#ffe429" stroke-width="1.44" stroke-linecap="round" fill="none"/>
<path d="M132.17 204.51h0M157.39 234.08h0" stroke="#4ca6ff" stroke-width="1.2" stroke-linecap="round" fill="none"/>
<path d="M137.02 231.73h0M161.58 244.07h0M198.11 240.64h0" stroke="#ffd659" stroke-width="1.24" stroke-linecap="round" fill="none"/>
<path d="M186.65 168.35h0M194.31 170.8h0" stroke="#5959c1" stroke-width="1.24" stroke-linecap="round" fill="none"/>
<path d="M187.65 171.28h0M187.68 171.82h0M191.01 170.87h0M191.42 171.29h0M188.12 174.75h0M190.57 177.54h0M191 178.28h0M198.47 170.9h0M195.08 180.57h0M195.75 181.8h0M192.61 182.09h0M192.9 173.63h0M185.47 174.62h0M185.74 175.59h0M199.9 171.71h0M202.67 172.67h0M194.82 172h0M190.56 173.52h0" stroke="#292994" stroke-width="1.04" stroke-linecap="round" fill="none"/>
<path d="M188.13 172.79h0M188.98 175.79h0M192.34 175.75h0" stroke="#ffe429" stroke-width="1.04" stroke-linecap="round" fill="none"/>
<path d="M192.45 172.15h0M188.71 175.59h0M191.33 179.49h0M213.39 174.24h0M213.45 175.16h0M207.93 184.57h0M193.12 173.9h0M199.99 172.63h0M195.57 172.63h0" stroke="#2929e4" stroke-width="1.04" stroke-linecap="round" fill="none"/>
<path d="M187.37 177.7h0M196.16 173.48h0M199.69 180.97h0M206.04 185.29h0" stroke="#ffaf29" stroke-width="1.04" stroke-linecap="round" fill="none"/>
<path d="M187.77 178.54h0M192.74 176.78h0M198.17 176.51h0M192.78 181.55h0M208.63 172.23h0M206.87 175.88h0M202 176.56h0" stroke="#2929c9" stroke-width="1.04" stroke-linecap="round" fill="none"/>
<path d="M187.93 178.52h0M198.13 174.58h0M200.3 181.46h0M203.48 178.47h0M204.63 182.56h0M209.8 172.93h0M213.27 178.22h0M220.66 181.87h0M193.36 174.53h0M201.69 183.55h0M203.03 177.85h0M196.81 178.21h0" stroke="#295eff" stroke-width="1.04" stroke-linecap="round" fill="none"/>
<path d="M193.36 176.87h0M197.73 173.55h0M201.51 175.29h0M198.55 177.71h0M202.94 174.76h0M196.49 182.82h0M204.05 181.81h0M209.26 172.65h0M211.65 175.99h0M208.93 181.96h0M214.31 179.01h0M210.94 183.94h0M203.64 174.17h0M227.23 181.23h0" stroke="#2944ff" stroke-width="1.04" stroke-linecap="round" fill="none"/>
<path d="M198.96 171.74h0M193.54 182.34h0M217.89 178.63h0M218.98 180.59h0M204.73 175.62h0M195.47 173.8h0" stroke="#ff5e29" stroke-width="1.04" stroke-linecap="round" fill="none"/>
<path d="M199.31 172.3h0M201.9 175.38h0M216.75 177.11h0M207.64 185.43h0M196.81 178.9h0" stroke="#29afff" stroke-width="1.04" stroke-linecap="round" fill="none"/>
<path d="M197.09 173.88h0M200.99 173.46h0M201.49 183.46h0M202.67 173.38h0M196.8 177.72h0" stroke="#2929af" stroke-width="1.04" stroke-linecap="round" fill="none"/>
<path d="M201.3 174.9h0M210.41 173.54h0M212.91 176.89h0M209.72 183.2h0M217.99 179.56h0M221.72 181.56h0M201.28 184.73h0M212.9 182.19h0M226.59 180.46h0M214.16 185.69h0M214.98 182.13h0" stroke="#2994ff" stroke-width="1.04" stroke-linecap="round" fill="none"/>
<path d="M199.46 178.24h0M203.6 175.46h0M200.33 182.74h0M203.89 178.96h0M210.57 174.87h0M211.8 176.59h0M213.61 175.36h0M211.78 180.65h0M200.14 173.6h0" stroke="#2979ff" stroke-width="1.04" stroke-linecap="round" fill="none"/>
<path d="M203.59 176.32h0M204.51 183.03h0M216.71 178.12h0M212.65 181.13h0M222.76 181.53h0M220.57 185.68h0M212.13 184.75h0M207.06 185.73h0" stroke="#44ffe4" stroke-width="1.04" stroke-linecap="round" fill="none"/>
<path d="M195.73 182.16h0M210.24 174.45h0M207.51 177.25h0M186.5 175.97h0M205.75 184.55h0M213.81 184.81h0M191.11 174.22h0" stroke="#2929ff" stroke-width="1.04" stroke-linecap="round" fill="none"/>
<path d="M204.65 179.8h0M208.95 177.74h0M214.12 175.7h0M214.67 179.17h0M212.47 180.36h0M221.04 182.38h0M226.69 182.88h0M220 184.62h0M224.03 183.35h0M226.7 182.29h0M216.06 183.69h0" stroke="#29c9ff" stroke-width="1.04" stroke-linecap="round" fill="none"/>
<path d="M205.04 179.55h0M208.19 177.24h0M215.27 180h0M211.68 184.72h0" stroke="#29e4ff" stroke-width="1.04" stroke-linecap="round" fill="none"/>
<path d="M211.09 175.11h0M212.02 177.4h0M210.1 183.52h0M219.11 180.5h0M226.69 183.56h0M208.34 186.09h0M205.09 176.28h0M213.75 183.09h0" stroke="#29ffff" stroke-width="1.04" stroke-linecap="round" fill="none"/>
<path d="M213.49 181.75h0M213.85 183.7h0" stroke="#79ffaf" stroke-width="1.04" stroke-linecap="round" fill="none"/>
<path d="M219.57 180.88h0M224.68 183.6h0" stroke="#94ff94" stroke-width="1.04" stroke-linecap="round" fill="none"/>
<path d="M221.76 182.62h0M220.37 185.93h0M215.75 183.92h0" stroke="#5effc9" stroke-width="1.04" stroke-linecap="round" fill="none"/>
<path d="M222.76 182.38h0M226.95 184.72h0" stroke="#afff79" stroke-width="1.04" stroke-linecap="round" fill="none"/>
<path d="M139.95 174.07h0" stroke="#ea5959" stroke-width="1.24" stroke-linecap="round" fill="none"/>
<path d="M180.93 181.71h0" stroke="#5997ff" stroke-width="1.24" stroke-linecap="round" fill="none"/>
<path d="M217.06 204.94h0M220.44 208.35h0" stroke="#ff7929" stroke-width="1.44" stroke-linecap="round" fill="none"/>
<path d="M176.32 212.93h0" stroke="#2929af" stroke-width="1.44" stroke-linecap="round" fill="none"/>
<path d="M188.9 240.74h0" stroke="#ff4c4c" stroke-width="1.2" stroke-linecap="round" fill="none"/>
<path d="M209.11 229.18h0M164.82 223.04h0M128.41 202.91h0M128.69 203.7h0" stroke="#4cbcff" stroke-width="1.2" stroke-linecap="round" fill="none"/>
<path d="M224.06 180.1h0M210.49 178.78h0M224.01 185.64h0M216.82 181.61h0" stroke="#59c1ff" stroke-width="1.24" stroke-linecap="round" fill="none"/>
<path d="M208.53 181.06h0" stroke="#59acff" stroke-width="1.24" stroke-linecap="round" fill="none"/>
<path d="M185.42 172.47h0" stroke="#5959d6" stroke-width="1.24" stroke-linecap="round" fill="none"/>
<path d="M206.71 179.15h0" stroke="#5983ff" stroke-width="1.24" stroke-linecap="round" fill="none"/>
<path d="M201.02 178.7h0M202.94 180.9h0" stroke="#596eff" stroke-width="1.24" stroke-linecap="round" fill="none"/>
<path d="M208.13 175.08h0M194.84 179.35h0M197.43 182.72h0M197.17 176.13h0" stroke="#5959ff" stroke-width="1.24" stroke-linecap="round" fill="none"/>
<path d="M169.42 215.61h0" stroke="#4c4cff" stroke-width="1.2" stroke-linecap="round" fill="none"/>
<path d="M171 191.3h0M172.6 192.2h0M174.2 193.2h0M175.8 194.1h0M177.2 195h0" stroke="#f08a78" stroke-width="1.1" stroke-linecap="round" fill="none"/>
<path d="M118.3 198h0" stroke="#58ffe7" stroke-width="1" stroke-linecap="round" fill="none"/>
<path d="M122.3 208.7h0" stroke="#ffff40" stroke-width="1" stroke-linecap="round" fill="none"/>
<path d="M122.4 220.9h0" stroke="#ffe740" stroke-width="1" stroke-linecap="round" fill="none"/>
<path d="M134.2 216.2h0" stroke="#ff8740" stroke-width="1" stroke-linecap="round" fill="none"/>
<path d="M134.2 221.4h0" stroke="#ff5840" stroke-width="1" stroke-linecap="round" fill="none"/>
<path d="M163.9 162.3h0M168.5 174.2h0" stroke="#4058ff" stroke-width="1" stroke-linecap="round" fill="none"/>
<path d="M164.5 164.5h0M175.7 156.8h0" stroke="#ff4040" stroke-width="1" stroke-linecap="round" fill="none"/>
<path d="M198.7 160.6h0" stroke="#ff7040" stroke-width="1" stroke-linecap="round" fill="none"/>
<ellipse cx="194.4" cy="161.6" rx="2" ry="1.5" fill="#14148c"/>
<circle cx="193.49" cy="163.65" r="0.45" fill="#2a2ab8"/>
<circle cx="195.87" cy="162.74" r="0.45" fill="#1a1aa0"/>
<circle cx="196.65" cy="162.14" r="0.45" fill="#2222b0"/>
<circle cx="191.43" cy="160.47" r="0.45" fill="#2a2ab8"/>
<circle cx="196.42" cy="160.41" r="0.45" fill="#2222b0"/>
<circle cx="195.58" cy="163.32" r="0.45" fill="#2a2ab8"/>
<circle cx="196" cy="161.86" r="0.45" fill="#3a4ad0"/>
<circle cx="191.71" cy="161.5" r="0.45" fill="#3a4ad0"/>
<circle cx="192.58" cy="163.61" r="0.45" fill="#3a4ad0"/>
<ellipse cx="178.2" cy="174.8" rx="2" ry="1.3" fill="#14148c"/>
<circle cx="175.4" cy="175.08" r="0.45" fill="#3a4ad0"/>
<circle cx="176.6" cy="175.95" r="0.45" fill="#2222b0"/>
<circle cx="178.6" cy="173.7" r="0.45" fill="#2222b0"/>
<circle cx="175.93" cy="173.2" r="0.45" fill="#2222b0"/>
<circle cx="179.77" cy="175.09" r="0.45" fill="#3a4ad0"/>
<circle cx="177.5" cy="176.85" r="0.45" fill="#1a1aa0"/>
<circle cx="175.65" cy="173.45" r="0.45" fill="#2222b0"/>
<circle cx="179.98" cy="173.11" r="0.45" fill="#1a1aa0"/>
<ellipse cx="164.6" cy="174.5" rx="1.2" ry="1.1" fill="#14148c"/>
<circle cx="164.21" cy="175.33" r="0.45" fill="#2222b0"/>
<circle cx="163.98" cy="175.37" r="0.45" fill="#1a1aa0"/>
<circle cx="163.37" cy="175.87" r="0.45" fill="#3a4ad0"/>
<circle cx="165.58" cy="175.08" r="0.45" fill="#1a1aa0"/>
<circle cx="164.1" cy="175.54" r="0.45" fill="#2222b0"/>
<ellipse cx="169.2" cy="167.2" rx="1.4" ry="0.7" fill="#14148c"/>
<circle cx="169.96" cy="166.36" r="0.45" fill="#2222b0"/>
<circle cx="169.38" cy="167.91" r="0.45" fill="#2222b0"/>
<circle cx="169.3" cy="167.84" r="0.45" fill="#2a2ab8"/>
<circle cx="166.97" cy="166.99" r="0.45" fill="#3a4ad0"/>
<ellipse cx="186.4" cy="168.6" rx="0.9" ry="0.8" fill="#14148c"/>
<circle cx="187.12" cy="169.16" r="0.45" fill="#3a4ad0"/>
<circle cx="185.36" cy="169.32" r="0.45" fill="#2a2ab8"/>
<circle cx="187.29" cy="168.47" r="0.45" fill="#2222b0"/>
<path d="M328.58 209.39h0M327.48 209.64h0M335.47 207.77h0M335.63 210.58h0M335.28 211.12h0M332.67 217.87h0M331.7 229.5h0M340.18 212.63h0M340.69 212.77h0M347.24 208.94h0M348.48 221.06h0M348.72 221.64h0M348.7 223.18h0M359.77 229.9h0M361.22 229.97h0M361.69 230.46h0M362.15 230.37h0M367.8 231.78h0M369.06 232.06h0M369.14 233.46h0M382.97 231.01h0M318.06 191.23h0M331.6 200.89h0M331.77 201.06h0M331.57 201.81h0M331.91 202.85h0M310.02 205.94h0M319.6 205.88h0M323.92 216.8h0M339.63 203.83h0M340.17 205.05h0M324.31 185.9h0M324.97 186.63h0M325.6 187.24h0M326.61 187.84h0M349.23 236.58h0M374.95 232.86h0M375.46 233.83h0M362.39 239.57h0M362.76 240.73h0M339.6 239.95h0M343.64 233.51h0M358.24 231.18h0M363.74 230.8h0M364.66 231.76h0M369.69 241.84h0M345.12 238h0M365.58 240.43h0M330.94 233.71h0M357.46 239.93h0M357.83 240.96h0M386.24 230.86h0M387.02 232.29h0M354.44 237.66h0M353.1 239.84h0M373.49 236.05h0M367.49 237.84h0M381.1 237.76h0M381.49 238.64h0M334.06 235.33h0M334.69 236.44h0M348.67 231.66h0M339.09 228.69h0M389.7 228.87h0M389.85 229.58h0M390.55 231.06h0M348.94 203.72h0M349.99 203.61h0M351.7 203.78h0M317.56 199.29h0M317.64 200.29h0M309.2 209.15h0M309.8 209.53h0M337.52 199.83h0M338.51 201.58h0M307.73 199.83h0M308.55 201.54h0M327.76 214.06h0M327.98 213.55h0M346.86 216.99h0M328.86 204.65h0M329.65 219.62h0M330.54 220.81h0M331.08 206.83h0M331.87 207.49h0M332.36 208.9h0M335.23 216.79h0M336.44 216.57h0M337.12 217.64h0M330.79 194.81h0M305.2 203.18h0M305.76 203.92h0M307.41 205.64h0M315.92 214.78h0M315.7 215.7h0M318.26 215.59h0M326.3 225.6h0M326.16 226.4h0M326.6 227.15h0M326.78 228.15h0" stroke="#f2d945" stroke-width="1.2" stroke-linecap="round" fill="none"/>
<path d="M327.55 210.74h0M327.41 210.93h0M335.7 208.85h0M336.02 209.19h0M333.32 216.63h0M333.1 217.4h0M332.12 218.21h0M332.06 218.6h0M332.03 229.82h0M341.17 212.86h0M341.47 213.84h0M341.22 213.97h0M342.35 214.7h0M343.56 216.28h0M342.77 216.75h0M343.14 217.28h0M342.72 218.38h0M342.96 219.27h0M347.78 207.23h0M347.68 207.45h0M347.32 209.48h0M348.59 222.54h0M348.67 223.36h0M359.89 230.75h0M360.24 229.88h0M383.37 231.71h0M383.64 231.95h0M317.15 189.57h0M317.34 190.34h0M318.79 191.44h0M322.39 197.53h0M322.59 197.5h0M323.27 197.67h0M311.95 200.55h0M312.41 200.53h0M331.84 201.99h0M331.6 203.29h0M309.61 205.73h0M319.17 205.74h0M320.69 205.22h0M322.51 213.78h0M322.42 214.35h0M323.8 214.19h0M323.42 215.1h0M324.14 215.46h0M339.62 202.99h0M339.95 204.4h0M341.34 206.25h0M341.89 206.08h0M341.8 206.16h0M325.39 186.53h0M349.65 237.47h0M350.26 237.7h0M375.98 234.13h0M362.58 239.71h0M339.21 240.71h0M342.65 233.38h0M343.37 234.48h0M358.38 231.88h0M347.32 243.73h0M348.41 244.01h0M348.54 244.63h0M348.86 245.04h0M363.11 229.37h0M364.85 232.38h0M369.44 242.33h0M369.58 243.01h0M344.5 238.42h0M345.82 237.91h0M366.16 240.76h0M366.57 241.96h0M335.1 231.03h0M336.03 231.38h0M336.73 231.35h0M331.19 233.32h0M331.59 234.94h0M357.88 241.13h0M358.03 241.37h0M385.77 230.8h0M353.6 238.37h0M372.79 235.31h0M367.3 237.34h0M368.05 238.36h0M334.56 236.04h0M341.26 240.9h0M341.87 242.62h0M348.03 230.45h0M349.16 232.12h0M339.64 229.02h0M340.06 230.31h0M390.37 230.33h0M341.87 224.26h0M343.45 224.55h0M344.49 224.16h0M348.93 203.98h0M350.48 204.19h0M351.11 204.39h0M318.56 201.41h0M310.12 210.04h0M326.85 196.33h0M327.54 197.55h0M309.09 202.35h0M327.14 213.38h0M328.92 213.76h0M329.3 213.97h0M329.83 213.99h0M313.45 206.83h0M347.18 218.23h0M329.84 204.83h0M328.85 218.69h0M329.7 218.91h0M330.4 221.06h0M332.45 209.86h0M350.04 218.86h0M351.5 218.57h0M337.51 218.65h0M331.06 194.77h0M331.64 195.83h0M332.48 195.76h0M306.19 204.63h0M306.93 205.3h0M306.51 205.42h0M314.99 214.89h0M319.05 215.14h0" stroke="#a0ea98" stroke-width="1.2" stroke-linecap="round" fill="none"/>
<path d="M324.64 215.55h0M326.55 221.91h0M336.73 221.91h0M344.36 229.55h0M348.82 226.36h0M352 235.91h0M360.91 232.73h0M366 207.27h0M368.55 220.64h0M377.46 228.91h0M386.36 218.73h0M390.18 234.64h0M378.73 239.73h0M295.36 199.2h0M303.25 196.27h0M347.8 193.09h0M311.27 218.29h0M299.82 221.73h0M313.82 232.93h0M322.35 245.91h0M348.18 250.75h0M394 223.64h0M374.91 241.84h0M386.75 246.55h0M368.55 249.35h0M363.45 169.55h0M326.55 165.73h0M306.56 186.35h0M343.95 243.4h0M370.2 236.53h0M352.43 242.26h0M346.44 240.86h0M359.49 236.71h0M341.5 238.35h0M380.08 232.74h0M400.86 181.3h0M377.82 179.9h0M394.61 185.61h0M371.64 180.55h0M393.62 182.81h0M397.46 179.96h0M391.64 178.28h0M320.64 211.23h0M322.54 221.38h0M317.63 218.73h0M323.66 207.33h0" stroke="#f2d945" stroke-width="1.24" stroke-linecap="round" fill="none"/>
<path d="M332.91 212.36h0M339.27 233.36h0M348.82 214.27h0M354.55 207.27h0M368.55 207.91h0M369.18 223.82h0M367.91 228.91h0M373.64 227h0M380 214.91h0M382.55 227.64h0M385.09 235.91h0M392.09 215.55h0M392.73 230.82h0M376.18 237.18h0M356.46 237.82h0M327.18 189.27h0M324.64 200.73h0M299.44 210.27h0M316.36 210.91h0M352.64 195.89h0M313.82 218.8h0M325.91 242.09h0M338.38 245.27h0M358.36 247.18h0M394 231.27h0M316.75 175.27h0M329.22 174.89h0M357.73 182.91h0M362.13 245.32h0M385.33 182.26h0M362.22 173.67h0M383.51 180.35h0M384.93 176.28h0M387.29 179.98h0M400.81 186.84h0M374.23 183.92h0M379.74 182.1h0M371.11 172h0M373.97 177.33h0M336.1 197.03h0M339.83 210.14h0M337.06 205.96h0M344.83 201.38h0" stroke="#a0ea98" stroke-width="1.24" stroke-linecap="round" fill="none"/>
<path d="M333.53 216.34h0M333.04 229.6h0M342.83 218.9h0M348.09 208.24h0M347.71 210.26h0M348.93 223.26h0M310.9 199.96h0M308.6 205.75h0M362.65 240.4h0M338.59 239.48h0M343.49 237.82h0M385.98 231.43h0M353.4 239.58h0M373.37 235.43h0M368.82 238.81h0M342.81 224.12h0M345.43 224.11h0M317.54 200.17h0M326.22 195.73h0M338.5 200.52h0M308.5 200.68h0M314.58 207.52h0M328.1 204.92h0M331.62 207.85h0M313.55 202.41h0M314.55 202.75h0M314.17 203.69h0M315.47 203.97h0M350.84 218.7h0M352.55 219.61h0M352.55 218.77h0M336.75 217h0M337.34 217.58h0M330.97 193.61h0" stroke="#f4936c" stroke-width="1.2" stroke-linecap="round" fill="none"/>
<path d="M329.73 225.09h0M352.64 230.82h0M348.18 234.64h0M363.46 235.27h0M378.09 218.73h0M390.18 221.27h0M329.09 192.07h0M320.18 196.91h0M313.18 211.93h0M311.91 223.38h0" stroke="#f4936c" stroke-width="1.24" stroke-linecap="round" fill="none"/>
<path d="M354.05 210.66h0M354.3 210.76h0M355.34 211.6h0M355.39 212.79h0M354.88 218.42h0M355.67 218.74h0M356.11 219.66h0M358.04 224.56h0M356.98 226.27h0M362.64 211.39h0M361.76 213.08h0M363.56 217.28h0M363.76 217.11h0M364.63 217.74h0M366.26 217.63h0M362.98 223.11h0M369.76 211.67h0M370.48 213.3h0M372.96 214.28h0M371.79 221.69h0M377.06 209.87h0M380.01 222.05h0M380.49 222.15h0M382.07 222.3h0M386.18 211.53h0M386.89 211.01h0M370.34 189.75h0M372.22 193.11h0M367.79 196.56h0M367.55 196.91h0M378.82 193.27h0M378.8 193.52h0M382.81 193.27h0M388.38 195.44h0M394.79 192.47h0M395.76 193.86h0M396.3 194.39h0M400.02 195.18h0M400.18 196.21h0M402.6 192.83h0M403.16 193.38h0M403.39 193.49h0M404.06 194.93h0M409.9 192.84h0M410.58 193.43h0M411.45 194.82h0M412.75 195.85h0M412.89 197.93h0M417.91 199.43h0M418.08 201.25h0M418.35 201.58h0M417.84 202.75h0M416.43 204.46h0M417.25 206.1h0M360.24 202.33h0M360.22 202.35h0M361.08 203.34h0M361.32 203.69h0M361.52 204.3h0M362.44 205.96h0M362.99 206.69h0M363.13 206.47h0M367.73 204.35h0M368.65 205.85h0M369.44 207.5h0M369.98 207.53h0M376.77 199.88h0M377.16 199.81h0M377.64 201.06h0M378.84 202.58h0M391.56 201.68h0M395.05 202.17h0M396.45 203.61h0M399.91 205.91h0M401.07 206.97h0M401.85 207.2h0M403.82 205.19h0M407.96 211.06h0M410.08 214h0M410.78 214.81h0M395.09 214.01h0M402.37 212.27h0M404.31 213.52h0M404.97 213.54h0M397.6 221.52h0M384.13 210.49h0M383.48 212.32h0M383.05 213.74h0M382.53 214.55h0M382.73 223.34h0M382.97 225.12h0M391 206.01h0M391.78 205.62h0M392.5 205.67h0M393.34 205.85h0M365.4 198.14h0M365.88 198.85h0M366.25 199.43h0M366.45 199.79h0M397.06 206.67h0M397.22 208.32h0M399.49 201.35h0M399.6 201.78h0M400.8 202.67h0M386.72 199.58h0M386.94 199.49h0M358.39 198.68h0M391.41 194.35h0M353.44 214.57h0M353.99 215.5h0M355.34 217.46h0M357.75 214.73h0M358.51 215.68h0M359.06 217.52h0M410.74 204.71h0M412.81 205.7h0M359.44 207.19h0M361.4 210.06h0M379.47 196.48h0M387.47 214.46h0M388.34 214.71h0M388.33 215.96h0M388.51 216.57h0M386.9 223.42h0M387.02 224.16h0M395.89 197.79h0M397.74 199.33h0M406.36 196.39h0M406.78 196.65h0M406.75 197.84h0M362.25 209.36h0M362.65 209.1h0M363.06 210h0M363.7 210.23h0M364.93 212.39h0M372.31 204.72h0M372.95 205.27h0M373.2 204.76h0M373.95 205.2h0M374.84 205.38h0M384.02 202.28h0M384.11 202.4h0M385.3 202.45h0M385.49 202.98h0M393.81 217.08h0M394.83 219.19h0M366.84 211.33h0M360.32 198.25h0M361.23 198.69h0M361.19 199.3h0M361.86 199.04h0M363.06 200.63h0M363.67 200.72h0M378.45 205.05h0M379.58 207.7h0M378.96 208h0M366.44 192.6h0M371.47 216.33h0M372.45 217.58h0M383.01 219.59h0M383.11 220.69h0M405.87 203.35h0M360.17 218.63h0M360.75 219.37h0M360.61 220.46h0M388.18 203.7h0M389.42 205.78h0M356.26 201.96h0M357.53 204.29h0M358.63 204.75h0M372.76 197.3h0M373.13 198.4h0M373.74 199.31h0M377.5 224.46h0M377.96 225.03h0M379.36 226.92h0M372.06 194.32h0M372.41 196.54h0M389.29 225.51h0M390.04 225.79h0M389.51 226.84h0M391.97 227.91h0M392.96 228.39h0M376.56 204.37h0M377.41 205.68h0M386.05 225.03h0M384.86 226.6h0M385.57 227.35h0M406.03 205.35h0M406.42 206.43h0M407.4 207.58h0M407.7 208.06h0M362.89 225.97h0M363.31 227.1h0M362.89 227.5h0M385.29 217.48h0M402.57 207.77h0M402.69 208.11h0M403.54 210.49h0M353.65 225.47h0" stroke="#f2d945" stroke-width="1.44" stroke-linecap="round" fill="none"/>
<path d="M355.13 212.27h0M355.95 213.22h0M357.64 225.18h0M365.85 217.45h0M374.13 215.06h0M378.03 210.01h0M378.9 221.98h0M379.93 222.24h0M389.25 207.92h0M371.73 191.91h0M365.77 194.04h0M367.02 195.74h0M380.2 194.51h0M383.01 193.52h0M388.2 196.61h0M386.98 198.89h0M395.26 192.96h0M399.03 195.32h0M410.1 192.72h0M415.23 199.7h0M368.92 205.85h0M370.26 207.79h0M391.84 202.39h0M394.52 200.31h0M395.19 202.72h0M395.93 203.39h0M402 208.48h0M403.74 205.76h0M405.65 209.68h0M393.25 210.9h0M383.56 211.69h0M397.05 208.88h0M388.06 201.46h0M391.5 194.07h0M353.47 215.01h0M412.74 206.45h0M359.05 207.12h0M360.03 208.45h0M381.52 198.45h0M386.41 213.23h0M396.83 198.98h0M394.07 217.9h0M395.29 219.95h0M366.74 210.46h0M366.84 212.04h0M379.28 207.2h0M365 191.77h0M372.55 218.3h0M382.82 218.33h0M405.89 203.42h0M362.14 220.26h0M357.32 203.73h0M372.56 195.67h0M392.33 228.01h0M384.7 228.09h0M362.73 229.27h0" stroke="#f4936c" stroke-width="1.44" stroke-linecap="round" fill="none"/>
<path d="M355.71 219.25h0M356.83 220.48h0M356.84 221.24h0M357.45 221.27h0M358.51 223.93h0M358.23 224.39h0M357.17 226.16h0M362.32 211.49h0M361.75 212.16h0M361.36 213.46h0M360.75 214.51h0M360.53 215.07h0M364.96 217.68h0M361.38 223.33h0M362.22 222.83h0M369.56 212.5h0M370.14 212.87h0M370.88 213.64h0M371.04 214.35h0M373.29 214.94h0M374.8 215.25h0M375.38 215.32h0M375.98 215.21h0M371.92 221.4h0M373.04 221.73h0M377.59 209.82h0M378.46 210.18h0M378.49 211.29h0M378.75 211.99h0M382.24 222.46h0M387.33 211.36h0M387.69 210.99h0M388.56 211.32h0M389.36 211.34h0M387.51 207.94h0M388.3 208.23h0M370.59 189.53h0M370.26 189.88h0M371.52 191.52h0M372 191.81h0M372.86 193.16h0M372.92 193.84h0M373.39 194.06h0M366.19 194.82h0M366.28 195h0M366.65 195.7h0M368.05 196.91h0M368 198.19h0M369.03 198.69h0M374.65 193.21h0M375.68 193.73h0M376.05 194h0M378.34 191.91h0M378.64 192.84h0M379.72 193.94h0M380.3 195.03h0M381.54 191.86h0M382.17 192.28h0M382.88 193.44h0M383.73 194.24h0M388.96 195.29h0M388.84 196.5h0M388.03 197.38h0M387.98 197.96h0M396.18 194.16h0M397.06 194.59h0M404.33 193.78h0M404.89 195.16h0M405.57 195.74h0M405.81 195.52h0M410.81 193.83h0M411.52 194.65h0M412.09 196.1h0M413.59 198.05h0M413.81 197.98h0M414.47 199.41h0M414.83 199.83h0M417.78 198.94h0M417.69 200.82h0M418.29 202.13h0M418.34 203.32h0M417.13 205.36h0M361 203.77h0M362.15 205.45h0M366.65 203.05h0M366.81 204.15h0M368.24 205.06h0M368.25 205.31h0M378 201.35h0M378.51 202.32h0M379.59 202.97h0M381.47 203.13h0M382.31 203.94h0M382.03 204.37h0M390.79 201.17h0M391.9 202.51h0M394.67 200.97h0M394.51 202.26h0M396.68 204.68h0M400.61 206.47h0M401.31 207.21h0M403.06 204.91h0M405.02 208.65h0M405.37 208.98h0M406.51 210.42h0M406.53 210.36h0M407.01 210.97h0M408.02 211.46h0M409.34 213.42h0M394.24 211.53h0M394.7 211.5h0M393.6 213.95h0M395.01 213.82h0M396.17 214.17h0M396.86 214.19h0M397.36 214.07h0M397.84 213.84h0M401.3 211.54h0M401.49 212.03h0M405.47 213.26h0M398.16 221.48h0M399.32 221.82h0M383.73 210.97h0M383.11 212.61h0M382.68 213.09h0M383.44 223.88h0M382.66 224.66h0M394.44 205.79h0M397.3 209.83h0M400.8 202.94h0M386.14 198.34h0M386.51 199.16h0M387.19 200.47h0M387.94 201.25h0M355.7 198.98h0M356.24 198.64h0M356.87 198.89h0M357.75 198.85h0M358.71 199.71h0M390.69 195.27h0M390.87 196.13h0M390.26 196.56h0M354.76 216.28h0M356.99 213.5h0M357.07 214.25h0M358.04 215.21h0M358.66 216.32h0M358.98 217.27h0M411.23 203.78h0M411.64 205.2h0M411.79 205.51h0M360.47 208.41h0M360.91 209.02h0M360.75 209.49h0M361.27 209.84h0M378.61 195.4h0M379.14 196.41h0M379.5 197.46h0M380.46 198.03h0M381.13 198.97h0M387.55 213.79h0M387.44 213.87h0M385.86 221.42h0M385.97 222.45h0M386.38 222.66h0M395.15 196.66h0M396.56 196.65h0M396.19 198.34h0M397.19 198.16h0M405.64 195.44h0M407.03 197.22h0M364.14 210.73h0M363.98 211.49h0M365.23 211.38h0M370.99 204.54h0M375.64 205.37h0M393.33 217.59h0M394.43 219h0M395.01 220.33h0M366.77 211.16h0M368.15 212.4h0M368.01 213.04h0M361.73 199.62h0M378.89 205.69h0M378.48 205.95h0M379 208.8h0M379.16 209.53h0M365.25 192.58h0M365.34 193.51h0M371.23 215.66h0M371.97 216.62h0M372.14 217.46h0M382.35 219.13h0M383.73 220.9h0M405.58 202.03h0M388.67 203.87h0M388.83 204.68h0M389.4 205.28h0M357.03 202.76h0M371.95 197.27h0M373.42 199.19h0M378.34 225.58h0M379.13 225.71h0M379.64 227.31h0M379.73 227.07h0M372.15 193.34h0M372.17 194.9h0M391.05 226.43h0M390.75 227.28h0M376.53 203.68h0M377.58 204.65h0M377.29 204.95h0M385.58 226.08h0M406.25 206.78h0M363.74 224.31h0M363.52 225.48h0M362.81 227.53h0M362.53 228.48h0M383.67 214.81h0M383.55 214.91h0M384.59 215.7h0M384.91 216.48h0M401.97 207.9h0M402.92 209.23h0M403.4 209.63h0M404.03 210.88h0M404.04 211.7h0M353.14 223.91h0M353.14 223.92h0" stroke="#a0ea98" stroke-width="1.44" stroke-linecap="round" fill="none"/>
<path d="M363.98 172.85h0M368.72 172.34h0M364.62 176.24h0M364.13 179.56h0M364.73 179.8h0M365.28 180.65h0M367.79 179.36h0M369.57 178.24h0M370.22 177.82h0M375.01 172.2h0M375.76 173.25h0M376.05 173.17h0M373.97 174.97h0M374.82 175.32h0M374.42 176.21h0M378.62 176.13h0M372.94 182.81h0M376.66 182.37h0M377.65 183.69h0M380.92 179.29h0M380.48 180.16h0M380.43 182.88h0M385.64 173.34h0M386.31 173.46h0M386.52 174.44h0M387.3 175h0M387.58 175.33h0M383.88 177.76h0M384.72 178.32h0M384.79 178.66h0M388.03 177.66h0M388.88 177.49h0M385.63 183.8h0M386.92 184.66h0M390.8 175.57h0M390.94 176.04h0M391.24 179.62h0M391.53 180.61h0M392.16 181.3h0M392.99 178.48h0M393.94 178.97h0M394.44 179.35h0M389.64 182.74h0M395.54 182.12h0M396.43 181.99h0M398.07 183.14h0M398.58 182.42h0M400.13 182.48h0M403.98 184.84h0M404.35 185.28h0M396.89 185.97h0M396.87 186.2h0M397.32 187.23h0M385.2 186.87h0M388.22 185.13h0M369.87 175.73h0M369.88 176.3h0M363.49 177.06h0M378.46 184.42h0M377.8 186.01h0M376.51 173.45h0M379.17 178.02h0M379.82 178.47h0M379.19 174.73h0M381.33 176.41h0M390.5 183.39h0M390.49 184.17h0M400.96 183.89h0M371.56 173.78h0M373.89 180.24h0M367.72 174.33h0M367.76 175.02h0M393.08 185.21h0" stroke="#a0ea98" stroke-width="1.04" stroke-linecap="round" fill="none"/>
<path d="M365.47 173.37h0M365.29 174.09h0M367.82 172.39h0M365.66 176.74h0M366.01 176.66h0M367.4 179.26h0M369.18 177.07h0M377.65 174.66h0M377.39 175.46h0M378.28 175.98h0M374.4 178.09h0M375.88 177.99h0M376.24 179.17h0M379.96 175.82h0M379.49 176.66h0M380.4 176.54h0M372.34 182.1h0M371.88 182.62h0M376.34 182.87h0M369.46 182.45h0M370.05 183.29h0M370.4 184.01h0M381.39 180.9h0M381.25 180.8h0M381.21 183.4h0M381.84 183.38h0M385.25 179.41h0M389.41 177.86h0M389.65 177.65h0M391.21 177.11h0M388.93 181.58h0M390.62 183.09h0M395.54 181.31h0M396.1 181.46h0M398.31 184.21h0M402.98 184.43h0M384.63 186.05h0M385.58 186.75h0M369.24 175.22h0M362.11 176.14h0M362.89 176.69h0M378.48 184.61h0M377.57 174.34h0M379.5 174.37h0M380.25 175.03h0M381.93 177.2h0M389.99 185.2h0M382.91 186.14h0M383.16 186.66h0M383.13 186.75h0M403.69 182.33h0M404.05 183.22h0M404.15 183.74h0M390.29 185.89h0M391.46 187.1h0M371.45 174.04h0M372.69 174.72h0M373.34 178.83h0M373.39 179.27h0M392.22 183.92h0" stroke="#f2d945" stroke-width="1.04" stroke-linecap="round" fill="none"/>
<path d="M368.53 173.31h0M368.11 180.04h0M373.77 174.64h0M373.66 183.4h0M387 174.16h0M388.08 176.63h0M386.62 184.25h0M391.86 177.2h0M391.3 180.26h0M389.51 182.62h0M397.18 183.1h0M400.25 183.76h0M388.09 185.89h0M388.94 186.58h0M377.49 174.93h0M401.31 185.22h0M392.42 184.33h0" stroke="#f4936c" stroke-width="1.04" stroke-linecap="round" fill="none"/>
<path d="M347.8 192.5h0M352.6 195.3h0M354 196.2h0" stroke="#a0ea98" stroke-width="1.1" stroke-linecap="round" fill="none"/>
<path d="M349.4 193.4h0M351 194.4h0" stroke="#f2d945" stroke-width="1.1" stroke-linecap="round" fill="none"/>
<path d="M295.1 199.2h0M299.1 209.9h0M311 217.4h0M340.7 163.5h0M341.3 165.7h0" stroke="#a0ea98" stroke-width="1" stroke-linecap="round" fill="none"/>
<path d="M299.2 222.1h0M311 222.6h0M345.3 175.4h0M352.5 158h0" stroke="#f2d945" stroke-width="1" stroke-linecap="round" fill="none"/>
<path d="M375.5 161.8h0" stroke="#f4936c" stroke-width="1" stroke-linecap="round" fill="none"/>
<ellipse cx="371.2" cy="162.8" rx="1.5" ry="1.12" fill="#f4a23c"/>
<circle cx="371.61" cy="161.49" r="0.6" fill="#a0ea98"/>
<circle cx="373.06" cy="162.14" r="0.6" fill="#a0ea98"/>
<circle cx="370.52" cy="162.71" r="0.6" fill="#a0ea98"/>
<circle cx="372.57" cy="163.92" r="0.6" fill="#f2d945"/>
<circle cx="371.47" cy="163.19" r="0.6" fill="#f2d945"/>
<circle cx="371.63" cy="161.38" r="0.6" fill="#a0ea98"/>
<circle cx="370.31" cy="163.83" r="0.6" fill="#f2d945"/>
<circle cx="371.38" cy="163.98" r="0.6" fill="#a0ea98"/>
<ellipse cx="355" cy="176" rx="1.5" ry="0.98" fill="#f4a23c"/>
<circle cx="354.75" cy="175.32" r="0.6" fill="#f2d945"/>
<circle cx="354.52" cy="177.25" r="0.6" fill="#a0ea98"/>
<circle cx="354.29" cy="175.73" r="0.6" fill="#a0ea98"/>
<circle cx="356" cy="175.71" r="0.6" fill="#a0ea98"/>
<circle cx="355.4" cy="176.9" r="0.6" fill="#a0ea98"/>
<circle cx="354.33" cy="175.85" r="0.6" fill="#a0ea98"/>
<circle cx="355.47" cy="175.73" r="0.6" fill="#a0ea98"/>
<ellipse cx="341.4" cy="175.7" rx="0.9" ry="0.83" fill="#f4a23c"/>
<circle cx="341.06" cy="175.4" r="0.6" fill="#a0ea98"/>
<circle cx="342.18" cy="176.52" r="0.6" fill="#f2d945"/>
<circle cx="341.63" cy="176.11" r="0.6" fill="#a0ea98"/>
<circle cx="341.44" cy="175.49" r="0.6" fill="#f2d945"/>
<ellipse cx="346" cy="168.4" rx="1.05" ry="0.52" fill="#f4a23c"/>
<circle cx="347.06" cy="167.87" r="0.6" fill="#f2d945"/>
<circle cx="346.88" cy="168.58" r="0.6" fill="#a0ea98"/>
<circle cx="347.36" cy="168.23" r="0.6" fill="#f2d945"/>
<ellipse cx="363.2" cy="169.8" rx="0.68" ry="0.6" fill="#f4a23c"/>
<circle cx="362.99" cy="170.43" r="0.6" fill="#f2d945"/>
<circle cx="362.48" cy="169.71" r="0.6" fill="#f2d945"/>
<circle cx="364.1" cy="170.57" r="0.6" fill="#f2d945"/>
<rect x="433.4" y="161.4" width="4.4" height="4.4" fill="#8fe08a"/>
<text class="l" x="439.9" y="165" font-size="6.4" textLength="82.2" lengthAdjust="spacingAndGlyphs">Rapid descent evolving pattern</text>
<rect x="433.4" y="177.3" width="4.4" height="4.4" fill="#ffc20e"/>
<text class="l" x="439.9" y="180.9" font-size="6.4" textLength="87.2" lengthAdjust="spacingAndGlyphs">Gradual descent evolving pattern</text>
<rect x="433.4" y="191.4" width="4.4" height="4.4" fill="#f26b5e"/>
<text class="l" x="439.9" y="195" font-size="6.4" textLength="98.6" lengthAdjust="spacingAndGlyphs">Ascent then descent evolving pattern</text>
</svg></body></html>
